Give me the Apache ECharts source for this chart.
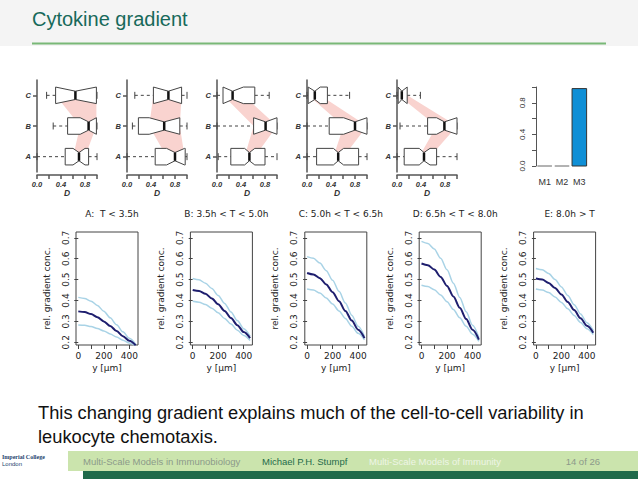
<!DOCTYPE html>
<html><head><meta charset="utf-8">
<script src="https://cdn.jsdelivr.net/npm/echarts@6/dist/echarts.min.js"></script>
<style>html,body{margin:0;padding:0;background:#fff}#c{width:638px;height:479px}</style>
</head><body><div id="c"></div>
<script>
// ---------------- data ----------------
const slideTitle = 'Cytokine gradient';
const bodyLines = ['This changing gradient explains much of the cell-to-cell variability in', 'leukocyte chemotaxis.'];
const footerTexts = ['Multi-Scale Models in Immunobiology', 'Michael P.H. Stumpf', 'Multi-Scale Models of Immunity', '14 of 26'];
const logoLines = ['Imperial College', 'London'];

// notched box plots: rows A, B, C ; columns whiskerLo, q1, notchLo, median, notchHi, q3, whiskerHi
const boxCategories = ['A', 'B', 'C'];
const boxPanel1 = [[0.00,0.47,0.60,0.70,0.80,0.86,1.00],[0.27,0.51,0.72,0.86,0.99,0.99,1.00],[0.16,0.31,0.31,0.64,0.99,0.99,1.00]];
const boxPanel2 = [[0.00,0.47,0.66,0.80,0.96,0.97,1.00],[0.09,0.19,0.37,0.62,0.88,0.88,1.00],[0.13,0.44,0.44,0.69,0.91,0.91,1.00]];
const boxPanel3 = [[0.02,0.23,0.46,0.54,0.63,0.80,1.00],[0.00,0.61,0.61,0.81,1.00,1.00,1.00],[0.00,0.10,0.10,0.26,0.44,0.63,0.87]];
const boxPanel4 = [[0.00,0.16,0.44,0.52,0.61,0.86,1.00],[0.00,0.37,0.61,0.80,1.00,1.00,1.00],[0.00,0.02,0.02,0.13,0.22,0.34,0.71]];
const boxPanel5 = [[0.00,0.12,0.37,0.45,0.55,0.66,1.00],[0.05,0.51,0.66,0.79,1.00,1.00,1.00],[0.00,0.02,0.02,0.08,0.17,0.17,0.39]];
const boxPanels = [boxPanel1, boxPanel2, boxPanel3, boxPanel4, boxPanel5];
const boxAxisName = 'D';
const boxTickLabels = ['0.0', '0.4', '0.8'];

// model probabilities bar chart
const modelCategories = ['M1', 'M2', 'M3'];
const modelProbabilities = [0, 0, 0.98];
const modelTickLabels = ['0.0', '0.4', '0.8'];

// gradient profiles
const panelTitles = ['A:  T < 3.5h', 'B: 3.5h < T < 5.0h', 'C: 5.0h < T < 6.5h', 'D: 6.5h < T < 8.0h', 'E: 8.0h > T'];
const yPositions = [0, 50, 100, 150, 200, 250, 300, 350, 400, 450];
const gradA_mid = [0.348,0.345,0.335,0.320,0.300,0.278,0.254,0.229,0.207,0.186];
const gradA_hi  = [0.415,0.410,0.397,0.376,0.349,0.317,0.284,0.250,0.219,0.190];
const gradA_lo  = [0.283,0.281,0.275,0.266,0.254,0.240,0.225,0.210,0.196,0.183];
const gradB_mid = [0.450,0.445,0.432,0.410,0.382,0.350,0.316,0.282,0.249,0.220];
const gradB_hi  = [0.505,0.499,0.483,0.457,0.424,0.386,0.345,0.304,0.265,0.230];
const gradB_lo  = [0.396,0.392,0.381,0.363,0.341,0.314,0.287,0.258,0.232,0.208];
const gradC_mid = [0.532,0.525,0.507,0.477,0.440,0.397,0.350,0.304,0.260,0.220];
const gradC_hi  = [0.610,0.602,0.579,0.543,0.497,0.444,0.388,0.330,0.277,0.228];
const gradC_lo  = [0.455,0.450,0.436,0.412,0.383,0.350,0.314,0.277,0.243,0.212];
const gradD_mid = [0.577,0.569,0.548,0.513,0.470,0.419,0.365,0.311,0.260,0.213];
const gradD_hi  = [0.683,0.673,0.647,0.602,0.547,0.483,0.415,0.346,0.281,0.222];
const gradD_lo  = [0.473,0.467,0.452,0.426,0.394,0.357,0.317,0.277,0.239,0.205];
const gradE_mid = [0.505,0.500,0.484,0.460,0.429,0.393,0.354,0.315,0.279,0.246];
const gradE_hi  = [0.553,0.547,0.529,0.501,0.465,0.424,0.380,0.336,0.294,0.256];
const gradE_lo  = [0.455,0.450,0.438,0.417,0.391,0.360,0.328,0.295,0.265,0.237];
const gradMid = [gradA_mid, gradB_mid, gradC_mid, gradD_mid, gradE_mid];
const gradHi = [gradA_hi, gradB_hi, gradC_hi, gradD_hi, gradE_hi];
const gradLo = [gradA_lo, gradB_lo, gradC_lo, gradD_lo, gradE_lo];
const gradXTicks = [0, 100, 200, 300, 400];
const gradXLabels = [0, 200, 400];
const gradYTicks = [0.2, 0.3, 0.4, 0.5, 0.6, 0.7];
const gradXName = 'y [µm]';
const gradYName = 'rel. gradient conc.';

// ---------------- rendering ----------------
const chart = echarts.init(document.getElementById('c'), null, {renderer: 'svg'});
const AX = '#555';
const boxFont = {fontFamily: 'Liberation Sans', fontSize: 7.5, fontStyle: 'italic', fontWeight: 'bold', color: '#333'};
const lineFont = {fontFamily: 'DejaVu Sans', fontSize: 9, color: '#222'};

function boxRender(params, api) {
  const c = api.value(0);
  const wlo = api.value(1), q1 = api.value(2), nlo = api.value(3), med = api.value(4),
        nhi = api.value(5), q3 = api.value(6), whi = api.value(7);
  const y = api.coord([0, c])[1];
  const X = t => api.coord([t, c])[0];
  const h = api.size([0, 1])[1] * 0.27;
  const n = h * 0.5;
  const cap = h * 0.42;
  const st = {stroke: '#444', lineWidth: 1};
  const dash = {stroke: '#444', lineWidth: 1, lineDash: [3, 3]};
  const ch = [];
  if (X(q1) - X(wlo) > 0.5) ch.push({type: 'line', shape: {x1: X(wlo), y1: y, x2: X(q1), y2: y}, style: dash});
  if (X(whi) - X(q3) > 0.5) ch.push({type: 'line', shape: {x1: X(q3), y1: y, x2: X(whi), y2: y}, style: dash});
  ch.push({type: 'line', shape: {x1: X(wlo), y1: y - cap, x2: X(wlo), y2: y + cap}, style: st});
  ch.push({type: 'line', shape: {x1: X(whi), y1: y - cap, x2: X(whi), y2: y + cap}, style: st});
  ch.push({type: 'polygon', shape: {points: [
    [X(q1), y - h], [X(nlo), y - h], [X(med), y - n], [X(nhi), y - h], [X(q3), y - h],
    [X(q3), y + h], [X(nhi), y + h], [X(med), y + n], [X(nlo), y + h], [X(q1), y + h]]},
    style: {fill: '#fff', stroke: '#444', lineWidth: 1}});
  ch.push({type: 'line', shape: {x1: X(med), y1: y - n, x2: X(med), y2: y + n}, style: {stroke: '#111', lineWidth: 2.5}});
  return {type: 'group', children: ch};
}
function makeBand(panel) {
  return function (params, api) {
    const pts = [];
    for (let c = 2; c >= 0; c--) pts.push(api.coord([panel[c][4], c]));
    for (let c = 0; c <= 2; c++) pts.push(api.coord([panel[c][2], c]));
    return {type: 'polygon', shape: {points: pts}, style: {fill: '#f9d3cf'}};
  };
}
function barRender(params, api) {
  const i = api.value(0), v = api.value(1);
  const base = api.coord([i, 0]), top = api.coord([i, v]);
  const w = api.size([1, 0])[0] * 0.84;
  if (Math.abs(base[1] - top[1]) < 0.5) {
    return {type: 'line', shape: {x1: base[0] - w / 2, y1: base[1], x2: base[0] + w / 2, y2: base[1]}, style: {stroke: '#666', lineWidth: 1}};
  }
  return {type: 'rect', shape: {x: base[0] - w / 2, y: top[1], width: w, height: base[1] - top[1]}, style: {fill: '#0f8fd6', stroke: '#333', lineWidth: 1}};
}

const grid = [], xAxis = [], yAxis = [], series = [], title = [];
boxPanels.forEach((panel, k) => {
  grid.push({left: 37 + 90 * k, top: 80, width: 60, height: 92});
  xAxis.push({gridIndex: k, type: 'value', min: 0, max: 1, interval: 0.2, offset: 3,
    axisLine: {show: true, lineStyle: {color: AX, width: 1.5}},
    axisTick: {show: true, length: 4, lineStyle: {color: AX, width: 1.5}},
    axisLabel: Object.assign({margin: 5, formatter: v => boxTickLabels.includes(v.toFixed(1)) ? v.toFixed(1) : ''}, boxFont),
    splitLine: {show: false},
    name: boxAxisName, nameLocation: 'middle', nameGap: 12, nameTextStyle: Object.assign({}, boxFont, {fontSize: 8.5})});
  yAxis.push({gridIndex: k, type: 'category', data: boxCategories, offset: 3,
    axisLine: {show: true, lineStyle: {color: AX, width: 1.5}},
    axisTick: {show: true, alignWithLabel: true, length: 4, lineStyle: {color: AX, width: 1.5}},
    axisLabel: Object.assign({margin: 3}, boxFont), splitLine: {show: false}});
  series.push({type: 'custom', xAxisIndex: k, yAxisIndex: k, z: 1, silent: true, data: [[0, 0]], renderItem: makeBand(panel)});
  series.push({type: 'custom', xAxisIndex: k, yAxisIndex: k, z: 2, silent: true,
    data: panel.map((r, i) => [i].concat(r)), encode: {x: [1, 2, 3, 4, 5, 6, 7], y: 0}, renderItem: boxRender});
});
grid.push({left: 536, top: 87, width: 52, height: 79});
xAxis.push({gridIndex: 5, type: 'category', data: modelCategories, axisLine: {show: false}, axisTick: {show: false},
  axisLabel: {fontFamily: 'Liberation Sans', fontSize: 9, color: '#333', margin: 11}});
yAxis.push({gridIndex: 5, type: 'value', min: 0, max: 1, interval: 0.2, splitLine: {show: false},
  axisLine: {show: true, lineStyle: {color: AX, width: 1}}, axisTick: {show: true, length: 4, lineStyle: {color: AX}},
  axisLabel: {rotate: 90, fontFamily: 'Liberation Sans', fontSize: 8, color: '#333', margin: 10,
    formatter: v => modelTickLabels.includes(v.toFixed(1)) ? v.toFixed(1) : ''}});
series.push({type: 'custom', xAxisIndex: 5, yAxisIndex: 5, silent: true,
  data: modelProbabilities.map((v, i) => [i, v]), encode: {x: 0, y: 1}, renderItem: barRender});
panelTitles.forEach((t, k) => {
  const gi = 6 + k;
  const left = 76 + 114.4 * k;
  grid.push({left: left, top: 232, width: 62, height: 113, show: true, borderColor: '#444', borderWidth: 1});
  title.push({text: t, left: left + 31, top: 204, textAlign: 'center',
    textStyle: {fontFamily: 'DejaVu Sans', fontSize: 9, fontWeight: 'normal', color: '#222'}});
  xAxis.push({gridIndex: gi, type: 'value', min: -18, max: 468, splitLine: {show: false},
    axisLine: {show: false},
    axisTick: {show: true, customValues: gradXTicks, length: 4, lineStyle: {color: '#444'}},
    axisLabel: Object.assign({customValues: gradXLabels, margin: 6}, lineFont),
    name: gradXName, nameLocation: 'middle', nameGap: 18, nameTextStyle: lineFont});
  yAxis.push({gridIndex: gi, type: 'value', min: 0.187, max: 0.728, splitLine: {show: false},
    axisLine: {show: false},
    axisTick: {show: true, customValues: gradYTicks, length: 4, lineStyle: {color: '#444'}},
    axisLabel: Object.assign({customValues: gradYTicks, rotate: 90, margin: 6, formatter: v => v.toFixed(1)}, lineFont),
    name: gradYName, nameLocation: 'middle', nameRotate: 90, nameGap: 25, nameTextStyle: lineFont});
  [[gradHi[k], '#a9d3e6', 1.5], [gradLo[k], '#a9d3e6', 1.5], [gradMid[k], '#1e1e6e', 2]].forEach(([arr, col, w]) => {
    series.push({type: 'line', xAxisIndex: gi, yAxisIndex: gi, smooth: 0.3, smoothMonotone: 'x', showSymbol: false, silent: true,
      data: yPositions.map((x, i) => [x, arr[i]]), lineStyle: {color: col, width: w}});
  });
});

const graphic = [
  {type: 'rect', shape: {x: 0, y: 0, width: 638, height: 46}, style: {fill: '#f4f4f4'}, z: -10},
  {type: 'text', x: 32, y: 19, style: {text: slideTitle, font: '20px "Liberation Sans"', fill: '#17695a', verticalAlign: 'middle'}},
  {type: 'line', shape: {x1: 32, y1: 43.5, x2: 606, y2: 43.5}, style: {stroke: '#79b877', lineWidth: 2}},
  {type: 'text', x: 38, y: 412, style: {text: bodyLines[0], font: '18.3px "Liberation Sans"', fill: '#111', verticalAlign: 'middle'}},
  {type: 'text', x: 38, y: 436, style: {text: bodyLines[1], font: '18.3px "Liberation Sans"', fill: '#111', verticalAlign: 'middle'}},
  {type: 'rect', shape: {x: 68, y: 451, width: 570, height: 20}, style: {fill: '#cbe4ad'}},
  {type: 'rect', shape: {x: 83, y: 471, width: 555, height: 8}, style: {fill: '#1f6a4a'}},
  {type: 'text', x: 2, y: 457, style: {text: logoLines[0], font: 'bold 6px "Liberation Serif"', fill: '#1d3f6e', verticalAlign: 'middle'}},
  {type: 'text', x: 2, y: 464, style: {text: logoLines[1], font: '6px "Liberation Sans"', fill: '#1d3f6e', verticalAlign: 'middle'}},
  {type: 'text', x: 83, y: 461, style: {text: footerTexts[0], font: '9.5px "Liberation Sans"', fill: '#8c9a8a', verticalAlign: 'middle'}},
  {type: 'text', x: 262, y: 461, style: {text: footerTexts[1], font: '9.5px "Liberation Sans"', fill: '#1f6b4a', verticalAlign: 'middle'}},
  {type: 'text', x: 369, y: 461, style: {text: footerTexts[2], font: '9.5px "Liberation Sans"', fill: '#eef5e6', verticalAlign: 'middle'}},
  {type: 'text', x: 600, y: 461, style: {text: footerTexts[3], font: '9.5px "Liberation Sans"', fill: '#8c9a8a', verticalAlign: 'middle', align: 'right'}}
];

chart.setOption({animation: false, backgroundColor: '#fff', title, grid, xAxis, yAxis, series, graphic});
</script></body></html>
